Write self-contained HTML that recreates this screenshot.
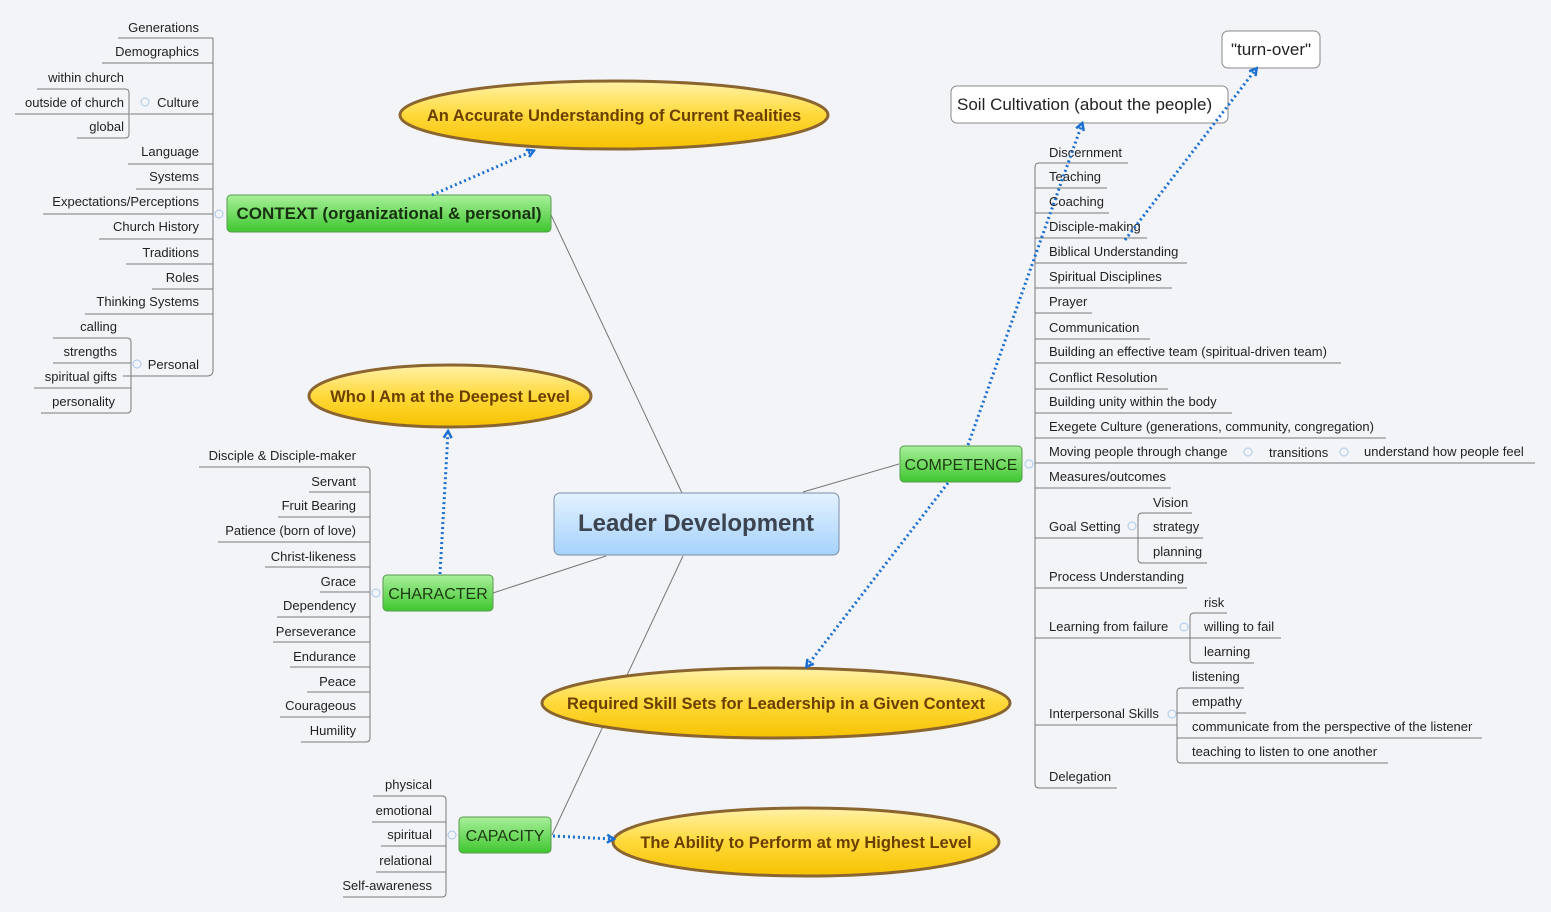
<!DOCTYPE html>
<html><head><meta charset="utf-8"><style>
html,body{margin:0;padding:0;background:#f3f4f8;}
svg{display:block;font-family:"Liberation Sans",sans-serif;}
.t{font-size:13px;fill:#222;}
.l{stroke:#7a7a7a;stroke-width:1;fill:none;}
.d{stroke:#1a6fd0;stroke-width:3;stroke-dasharray:2 3;fill:none;}
.e{font-size:16.5px;font-weight:bold;fill:#6b3f00;text-anchor:middle;}
.g{font-size:16px;fill:#1c3a10;text-anchor:middle;}
</style></head><body>
<svg width="1551" height="912" viewBox="0 0 1551 912">
<defs>
<linearGradient id="gr" x1="0" y1="0" x2="0" y2="1"><stop offset="0" stop-color="#a8f09a"/><stop offset="1" stop-color="#3fc62e"/></linearGradient>
<linearGradient id="bl" x1="0" y1="0" x2="0" y2="1"><stop offset="0" stop-color="#e4f2ff"/><stop offset="1" stop-color="#a6d2fb"/></linearGradient>
<linearGradient id="ye" x1="0" y1="0" x2="0" y2="1"><stop offset="0" stop-color="#fff2a8"/><stop offset="0.5" stop-color="#ffd93a"/><stop offset="1" stop-color="#f6c200"/></linearGradient>
<marker id="ar" markerWidth="10" markerHeight="10" refX="7" refY="5" orient="auto" markerUnits="userSpaceOnUse"><path d="M1,1 L8,5 L1,9" stroke="#1a6fd0" stroke-width="2.5" fill="none"/></marker>
</defs>

<g stroke="#777" stroke-width="1">
<line x1="551" y1="215" x2="682" y2="493"/>
<line x1="899" y1="464" x2="803" y2="492"/>
<line x1="493" y1="593" x2="606" y2="556"/>
<line x1="552" y1="835" x2="683" y2="556"/>
</g>

<g class="l">
<path d="M213 38 V370 Q213 376 207 376"/>
<path d="M118 38 H213"/><path d="M102 63 H213"/><path d="M130 114 H213"/><path d="M128 164 H213"/><path d="M136 189 H213"/><path d="M43 214 H213"/><path d="M99 239 H213"/><path d="M126 264 H213"/><path d="M152 289 H213"/><path d="M85 314 H213"/><path d="M123 376 H207"/>
<path d="M37 89 H125 Q129 89 129 93 V134 Q129 138 125 138 H77"/><path d="M15 114 H129"/>
<path d="M53 338 H127 Q131 338 131 342 V409 Q131 413 127 413 H41"/><path d="M53 363 H131"/><path d="M34 388 H131"/>
</g>
<g class="t" text-anchor="end">
<text x="199" y="32">Generations</text><text x="199" y="56">Demographics</text><text x="199" y="107">Culture</text>
<text x="199" y="156">Language</text><text x="199" y="181">Systems</text><text x="199" y="206">Expectations/Perceptions</text>
<text x="199" y="231">Church History</text><text x="199" y="257">Traditions</text><text x="199" y="282">Roles</text>
<text x="199" y="306">Thinking Systems</text><text x="199" y="369">Personal</text>
<text x="124" y="82">within church</text><text x="124" y="107">outside of church</text><text x="124" y="131">global</text>
<text x="117" y="331">calling</text><text x="117" y="356">strengths</text><text x="117" y="381">spiritual gifts</text><text x="115" y="406">personality</text>
</g>
<g fill="none" stroke="#aac8e8"><circle cx="219" cy="214" r="4"/><circle cx="145" cy="102" r="4"/><circle cx="137" cy="364" r="4"/><circle cx="376" cy="593" r="4"/><circle cx="452" cy="835" r="4"/><circle cx="1029" cy="464" r="4"/><circle cx="1248" cy="452" r="4"/><circle cx="1344" cy="452" r="4"/><circle cx="1132" cy="526" r="4"/><circle cx="1184" cy="627" r="4"/><circle cx="1172" cy="714" r="4"/></g>

<g class="l">
<path d="M199 467 H366 Q370 467 370 471 V738 Q370 742 366 742 H301"/>
<path d="M309 492 H370"/><path d="M278 517 H370"/><path d="M218 542 H370"/><path d="M265 567 H370"/><path d="M320 592 H370"/><path d="M277 617 H370"/><path d="M273 642 H370"/><path d="M290 667 H370"/><path d="M307 692 H370"/><path d="M280 717 H370"/>
</g>
<g class="t" text-anchor="end">
<text x="356" y="460">Disciple &amp; Disciple-maker</text><text x="356" y="486">Servant</text><text x="356" y="510">Fruit Bearing</text><text x="356" y="535">Patience (born of love)</text><text x="356" y="561">Christ-likeness</text><text x="356" y="586">Grace</text><text x="356" y="610">Dependency</text><text x="356" y="636">Perseverance</text><text x="356" y="661">Endurance</text><text x="356" y="686">Peace</text><text x="356" y="710">Courageous</text><text x="356" y="735">Humility</text>
</g>

<g class="l">
<path d="M373 796 H442 Q446 796 446 800 V893 Q446 897 442 897 H343"/>
<path d="M372 822 H446"/><path d="M381 846 H446"/><path d="M376 872 H446"/>
</g>
<g class="t" text-anchor="end">
<text x="432" y="789">physical</text><text x="432" y="815">emotional</text><text x="432" y="839">spiritual</text><text x="432" y="865">relational</text><text x="432" y="890">Self-awareness</text>
</g>

<g class="l">
<path d="M1128 163 H1039 Q1035 163 1035 167 V784 Q1035 788 1039 788 H1117"/>
<path d="M1035 188 H1107"/><path d="M1035 213 H1109"/><path d="M1035 238 H1147"/><path d="M1035 263 H1187"/><path d="M1035 288 H1172"/><path d="M1035 313 H1092"/><path d="M1035 339 H1150"/><path d="M1035 363 H1341"/><path d="M1035 389 H1168"/><path d="M1035 413 H1232"/><path d="M1035 438 H1386"/><path d="M1035 463 H1535"/><path d="M1035 488 H1171"/><path d="M1035 538 H1138"/><path d="M1035 588 H1187"/><path d="M1035 638 H1190"/><path d="M1035 725 H1177"/>
<path d="M1192 513 H1142 Q1138 513 1138 517 V559 Q1138 563 1142 563 H1207"/><path d="M1138 538 H1203"/>
<path d="M1227 613 H1194 Q1190 613 1190 617 V659 Q1190 663 1194 663 H1254"/><path d="M1190 638 H1281"/>
<path d="M1244 688 H1181 Q1177 688 1177 692 V759 Q1177 763 1181 763 H1388"/><path d="M1177 713 H1246"/><path d="M1177 738 H1482"/>
</g>
<g class="t">
<text x="1049" y="157">Discernment</text><text x="1049" y="181">Teaching</text><text x="1049" y="206">Coaching</text><text x="1049" y="231">Disciple-making</text><text x="1049" y="256">Biblical Understanding</text><text x="1049" y="281">Spiritual Disciplines</text><text x="1049" y="306">Prayer</text><text x="1049" y="332">Communication</text><text x="1049" y="356">Building an effective team (spiritual-driven team)</text><text x="1049" y="382">Conflict Resolution</text><text x="1049" y="406">Building unity within the body</text><text x="1049" y="431">Exegete Culture (generations, community, congregation)</text><text x="1049" y="456">Moving people through change</text><text x="1269" y="457">transitions</text><text x="1364" y="456">understand how people feel</text><text x="1049" y="481">Measures/outcomes</text>
<text x="1049" y="531">Goal Setting</text><text x="1153" y="507">Vision</text><text x="1153" y="531">strategy</text><text x="1153" y="556">planning</text>
<text x="1049" y="581">Process Understanding</text>
<text x="1049" y="631">Learning from failure</text><text x="1204" y="607">risk</text><text x="1204" y="631">willing to fail</text><text x="1204" y="656">learning</text>
<text x="1049" y="718">Interpersonal Skills</text><text x="1192" y="681">listening</text><text x="1192" y="706">empathy</text><text x="1192" y="731">communicate from the perspective of the listener</text><text x="1192" y="756">teaching to listen to one another</text>
<text x="1049" y="781">Delegation</text>
</g>

<ellipse cx="614" cy="115" rx="214" ry="34" fill="url(#ye)" stroke="#8b6530" stroke-width="3"/>
<text class="e" x="614" y="121">An Accurate Understanding of Current Realities</text>
<ellipse cx="450" cy="396" rx="141" ry="31" fill="url(#ye)" stroke="#8b6530" stroke-width="3"/>
<text class="e" x="450" y="402">Who I Am at the Deepest Level</text>
<ellipse cx="776" cy="703" rx="234" ry="35" fill="url(#ye)" stroke="#8b6530" stroke-width="3"/>
<text class="e" x="776" y="709">Required Skill Sets for Leadership in a Given Context</text>
<ellipse cx="806" cy="842" rx="193" ry="34" fill="url(#ye)" stroke="#8b6530" stroke-width="3"/>
<text class="e" x="806" y="848">The Ability to Perform at my Highest Level</text>

<rect x="554" y="493" width="285" height="62" rx="6" fill="url(#bl)" stroke="#7a8ea8"/>
<text x="696" y="531" text-anchor="middle" style="font-size:24px;font-weight:bold;fill:#3c4450">Leader Development</text>
<rect x="227" y="195" width="324" height="37" rx="4" fill="url(#gr)" stroke="#5a9a50"/>
<text x="389" y="219" text-anchor="middle" style="font-size:17px;font-weight:bold;fill:#173010">CONTEXT (organizational &amp; personal)</text>
<rect x="383" y="575" width="110" height="36" rx="4" fill="url(#gr)" stroke="#5a9a50"/>
<text class="g" x="438" y="599">CHARACTER</text>
<rect x="459" y="817" width="92" height="36" rx="4" fill="url(#gr)" stroke="#5a9a50"/>
<text class="g" x="505" y="841">CAPACITY</text>
<rect x="900" y="446" width="122" height="36" rx="4" fill="url(#gr)" stroke="#5a9a50"/>
<text class="g" x="961" y="470">COMPETENCE</text>
<rect x="951" y="86" width="277" height="37" rx="6" fill="#fff" stroke="#888"/>
<text x="957" y="110" style="font-size:17px;fill:#222">Soil Cultivation (about the people)</text>
<rect x="1222" y="31" width="98" height="37" rx="6" fill="#fff" stroke="#888"/>
<text x="1271" y="55" text-anchor="middle" style="font-size:17px;fill:#222">"turn-over"</text>

<line class="d" x1="432" y1="195" x2="533" y2="151" marker-end="url(#ar)"/>
<line class="d" x1="440" y1="574" x2="448" y2="432" marker-end="url(#ar)"/>
<line class="d" x1="968" y1="445" x2="1082" y2="124" marker-end="url(#ar)"/>
<line class="d" x1="948" y1="483" x2="807" y2="666" marker-end="url(#ar)"/>
<line class="d" x1="1125" y1="240" x2="1256" y2="69" marker-end="url(#ar)"/>
<line class="d" x1="553" y1="836" x2="613" y2="839" marker-end="url(#ar)"/>
</svg>
</body></html>
